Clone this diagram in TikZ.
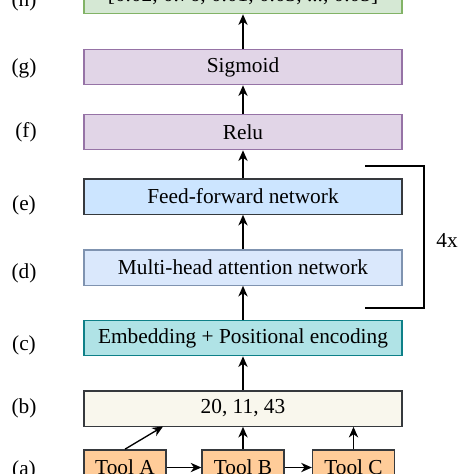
\documentclass[tikz,border=0pt]{standalone}
\usepackage{fontspec}
\setmainfont{Liberation Serif}
\usetikzlibrary{arrows.meta}

\definecolor{hfill}{HTML}{D5E8D4}
\definecolor{hline}{HTML}{82B366}
\definecolor{pfill}{HTML}{E1D5E7}
\definecolor{pline}{HTML}{9673A6}
\definecolor{efill}{HTML}{CCE5FF}
\definecolor{dfill}{HTML}{DAE8FC}
\definecolor{dline}{HTML}{7F93B0}
\definecolor{cfill}{HTML}{B0E3E6}
\definecolor{cline}{HTML}{0E8088}
\definecolor{bfill}{HTML}{F9F7ED}
\definecolor{tfill}{HTML}{FFCC99}
\definecolor{dkline}{HTML}{36393D}

\tikzset{every picture/.style={line width=0.75pt}}
\tikzset{
  layer/.style={draw, line width=1pt, minimum width=238.5pt, minimum height=26.5pt,
    inner sep=0pt, font=\fontsize{16}{19}\selectfont},
  toolbox/.style={draw=dkline, fill=tfill, line width=1pt, minimum width=61.5pt,
    minimum height=26.5pt, inner sep=0pt, font=\fontsize{16}{19}\selectfont},
  tag/.style={font=\fontsize{16}{19}\selectfont},
  arr/.style={-{Stealth[length=8pt,width=7pt,inset=2.5pt]}, line width=1pt}
}

\begin{document}
\begin{tikzpicture}[x=0.75pt,y=0.75pt,yscale=-1,xscale=1]
\useasboundingbox (0,0) rectangle (474,474);

% Layers
\node[layer, draw=hline, fill=hfill] (h) at (243,-4) {[0.02, 0.76, 0.01, 0.03, ..., 0.05]};
\node[layer, draw=pline, fill=pfill] (g) at (243,67) {Sigmoid};
\node[layer, draw=pline, fill=pfill] (f) at (243,132) {Relu};
\node[layer, draw=dkline, fill=efill] (e) at (243,196.5) {Feed-forward network};
\node[layer, draw=dline, fill=dfill] (d) at (243,267.5) {Multi-head attention network};
\node[layer, draw=cline, fill=cfill] (c) at (243,338) {Embedding + Positional encoding};
\node[layer, draw=dkline, fill=bfill] (b) at (243,408.5) {20, 11, 43};

% Tools
\node[toolbox] (tA) at (125,467.5) {Tool A};
\node[toolbox] (tB) at (243,467.5) {Tool B};
\node[toolbox] (tC) at (353.5,467.5) {Tool C};

% Tags
\node[tag] (lh) at (24,1) {(h)};
\node[tag] (lg) at (24,68) {(g)};
\node[tag] (lf) at (26,132) {(f)};
\node[tag] (le) at (24,205) {(e)};
\node[tag] (ld) at (24,273) {(d)};
\node[tag] (lc) at (24,345) {(c)};
\node[tag] (lb) at (24,408) {(b)};
\node[tag] (la) at (24,470) {(a)};

% Arrows
\draw[arr] (g) -- (h);
\draw[arr] (f) -- (g);
\draw[arr] (e) -- (f);
\draw[arr] (d) -- (e);
\draw[arr] (c) -- (d);
\draw[arr] (b) -- (c);
\coordinate (bA) at (163,426.5);
\draw[arr] (tA.north) -- (bA);
\draw[arr] (tB.north) -- (tB.north |- b.south);
\draw[arr] (tC.north) -- (tC.north |- b.south);
\draw[arr] (tA) -- (tB);
\draw[arr] (tB) -- (tC);

% Bracket
\coordinate (brT) at (365,166);
\coordinate (brB) at (365,308);
\draw[line width=1.6pt] (brT) -- (424,166) -- (424,308) -- (brB);
\node[tag] (rep) at (447,240) {4x};

\end{tikzpicture}
\end{document}
